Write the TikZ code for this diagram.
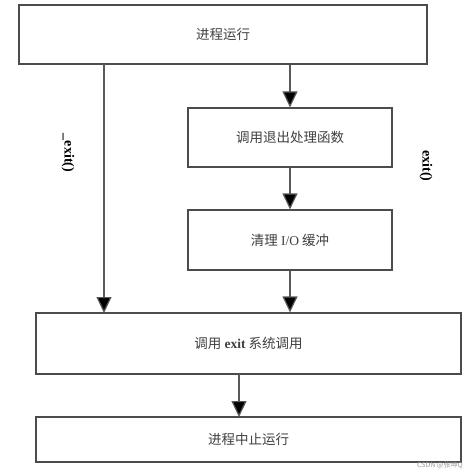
\documentclass[tikz,border=0pt]{standalone}
\usepackage{fontspec}
\setmainfont{Liberation Serif}
\newfontfamily\cjk{Noto Sans CJK SC}
\usetikzlibrary{arrows.meta}
\begin{document}
\begin{tikzpicture}[x=1pt,y=-1pt,
  boxst/.style={draw=black!70,line width=1.2pt,rectangle,inner sep=0pt,font=\fontsize{13.5}{15}\selectfont\cjk,text=black!75},
  arr/.style={draw=black!65,line width=1.2pt,-{Triangle[length=16pt,width=15pt,fill=black]}},
  lab/.style={font=\fontsize{14}{15}\bfseries\selectfont,rotate=-90,inner sep=0pt}]
\useasboundingbox (0,0) rectangle (474,476);
\fill[white] (0,0) rectangle (474,476);
\node[boxst,minimum width=408pt,minimum height=59pt] (run) at (223,34.5) {进程运行};
\node[boxst,minimum width=204pt,minimum height=59pt] (hand) at (290,137.5) {调用退出处理函数};
\node[boxst,minimum width=204pt,minimum height=60pt] (io) at (290,240) {清理 {\rmfamily I/O} 缓冲};
\node[boxst,minimum width=425pt,minimum height=61pt] (sys) at (248.5,343.5) {调用 {\rmfamily\bfseries exit} 系统调用};
\node[boxst,minimum width=425pt,minimum height=45pt] (stop) at (248.5,439.5) {进程中止运行};
\coordinate (l1) at (104,64);
\coordinate (l2) at (104,313);
\draw[arr] (l1) -- (l2);
\draw[arr] (hand.north |- run.south) -- (hand.north);
\draw[arr] (hand) -- (io);
\draw[arr] (io.south) -- (io.south |- sys.north);
\coordinate (m1) at (239,374);
\coordinate (m2) at (239,417);
\draw[arr] (m1) -- (m2);
\node[lab] (lexit) at (68,153) {\_exit()};
\node[lab] (rexit) at (426,166) {exit()};
\node[font=\fontsize{7}{8}\selectfont\cjk,text=black!40,anchor=east,inner sep=0pt] (wm) at (463,465) {CSDN @张坤Q};
\end{tikzpicture}
\end{document}
